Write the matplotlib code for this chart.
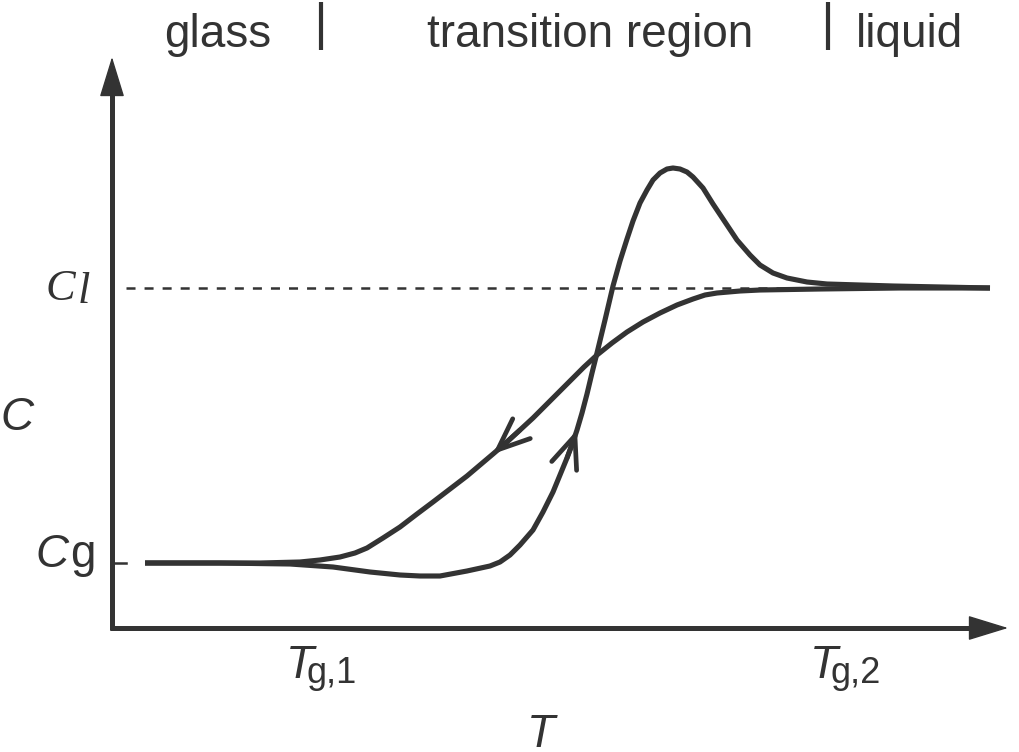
import matplotlib
matplotlib.use('Agg')
import matplotlib.pyplot as plt

plt.rcParams['font.family'] = 'Liberation Sans'
plt.rcParams['lines.scale_dashes'] = False

INK = '#333333'

# Data (arbitrary units, origin at the axes corner)
C_G = 65
C_L = 340
T_G1 = 211
T_G2 = 735
REGION_LABELS = ['glass', 'transition region', 'liquid']
REGION_CENTERS = [106, 478, 798]
REGION_BOUNDS = [209, 716]

# cooling run (liquid -> glass), listed left to right
cool_T = [33, 108, 148, 188, 208, 228, 243, 255, 271, 288, 305, 321, 338, 355,
          368, 381, 395, 408, 421, 433, 446, 458, 472, 485, 500, 515, 531, 548,
          565, 581, 593, 605, 628, 648, 708, 788, 878]
cool_C = [65, 65, 65, 66, 68, 71, 75, 80, 90, 101, 114, 126, 139, 152,
          163, 174, 186, 198, 210, 222, 235, 247, 261, 273, 285, 296, 306, 315,
          323, 329, 333, 335, 337, 338, 339, 340, 340]
COOL_ARROW = cool_T.index(381)   # arrow tip, pointing to lower T

# heating run (glass -> liquid)
heat_T = [33, 108, 178, 221, 258, 288, 308, 328, 355, 378, 388, 398, 408, 421,
          431, 441, 448, 455, 460, 465, 470, 475, 480, 485, 493, 501, 508, 515,
          521, 528, 535, 541, 548, 555, 561, 568, 575, 581, 591, 601, 615, 625,
          638, 648, 661, 675, 695, 715, 748, 781, 878]
heat_C = [65, 65, 64, 61, 56, 53, 52, 52, 57, 62, 66, 73, 83, 98,
          116, 136, 153, 170, 183, 198, 215, 234, 255, 275, 308, 342, 367, 389,
          407, 425, 438, 448, 455, 459, 460, 459, 456, 451, 440, 424, 403, 388,
          373, 363, 355, 350, 346, 344, 343, 342, 340]
HEAT_ARROW = heat_T.index(465)

fig = plt.figure(figsize=(10.2, 7.52), dpi=100)
ax = fig.add_axes([0, 0, 1, 1])
ax.set_xlim(-112, 908)
ax.set_ylim(-124, 628)
ax.axis('off')

# axes with arrow heads
ax.plot([-2, 870], [0, 0], color=INK, lw=3.6, solid_capstyle='butt')
ax.plot([0, 0], [-2, 540], color=INK, lw=3.6, solid_capstyle='butt')
head = dict(arrowstyle='-|>,head_length=2.6,head_width=0.8', mutation_scale=10,
            fc=INK, ec=INK, lw=1, shrinkA=0, shrinkB=0)
ax.annotate('', xy=(896, 0), xytext=(850, 0), arrowprops=head)
ax.annotate('', xy=(0, 571), xytext=(0, 525), arrowprops=head)

# reference levels
ax.plot([14, 878], [C_L, C_L], color=INK, lw=1.8, dashes=(6.5, 6.5), zorder=1)
ax.plot([0, 33], [C_G, C_G], color=INK, lw=1.8, dashes=(11, 20), zorder=1)

# curves
for T, C in [(cool_T, cool_C), (heat_T, heat_C)]:
    ax.plot(T, C, color=INK, lw=3.7, solid_joinstyle='round',
            solid_capstyle='butt', zorder=3)

chev = dict(arrowstyle='->,head_length=2.3,head_width=0.95', mutation_scale=10,
            color=INK, lw=3.4, shrinkA=0, shrinkB=0)
ax.annotate('', xy=(cool_T[COOL_ARROW], cool_C[COOL_ARROW]),
            xytext=(cool_T[COOL_ARROW + 2], cool_C[COOL_ARROW + 2]), arrowprops=chev)
ax.annotate('', xy=(heat_T[HEAT_ARROW], heat_C[HEAT_ARROW]),
            xytext=(heat_T[HEAT_ARROW - 2], heat_C[HEAT_ARROW - 2]), arrowprops=chev)

# region labels on top
for lab, xc in zip(REGION_LABELS, REGION_CENTERS):
    ax.text(xc, 581, lab, ha='center', va='baseline', fontsize=33, color=INK)
for xb in REGION_BOUNDS:
    ax.plot([xb, xb], [578, 626], color=INK, lw=3, solid_capstyle='butt')

# axis labels
ax.text(-95, 198, 'C', ha='center', va='baseline', fontsize=33,
        style='italic', color=INK)
ax.text(429, -119, 'T', ha='center', va='baseline', fontsize=33,
        style='italic', color=INK)


def piece(x, y, s, dx, dy, size, **kw):
    ax.annotate(s, xy=(x, y), xytext=(dx, dy), textcoords='offset pixels',
                ha='left', va='baseline', fontsize=size, color=INK, **kw)


# T ticks
for tg, sub in [(T_G1, 'g,1'), (T_G2, 'g,2')]:
    piece(tg, 0, 'T', -37, -50, 33, style='italic')
    piece(tg, 0, sub, -16, -55, 26)

# C ticks
piece(0, C_L, 'C', -66, -12, 32, style='italic', family='Liberation Serif')
piece(0, C_L, 'l', -34, -15, 32, style='italic', family='Liberation Serif')
piece(0, C_G, 'C', -77, -4, 33, style='italic')
piece(0, C_G, 'g', -42, -4, 33)

fig.savefig('out.png', dpi=100)
